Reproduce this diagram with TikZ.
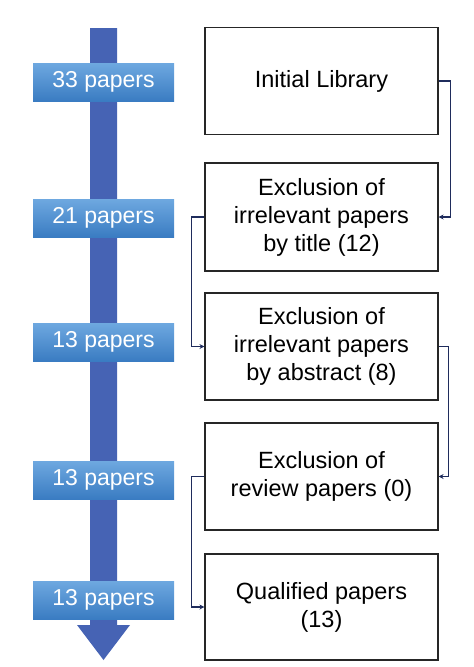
\documentclass[tikz,border=0pt]{standalone}
\usepackage{fontspec}
\setmainfont{Liberation Sans}
\usetikzlibrary{arrows.meta}
\definecolor{shaft}{RGB}{70,99,180}
\definecolor{lbltop}{RGB}{110,168,224}
\definecolor{lblbot}{RGB}{58,124,194}
\definecolor{conncol}{RGB}{31,44,92}
\tikzset{
  lbl/.style={minimum width=141pt, minimum height=38pt, inner sep=0pt,
    top color=lbltop, bottom color=lblbot, draw=none, text=white,
    font=\fontsize{23}{27}\selectfont},
  stepbox/.style={draw=black!85, line width=1.1pt, fill=white, minimum width=233pt,
    minimum height=107pt, inner sep=0pt, align=center,
    font=\fontsize{23.5}{28}\selectfont},
  conn/.style={draw=conncol, line width=1.4pt, -{Stealth[length=5pt,width=5pt]}}
}
\begin{document}
\begin{tikzpicture}[x=1pt,y=-1pt]
\useasboundingbox (0,0) rectangle (474,667);
% big arrow
\fill[shaft] (90,28) -- (117,28) -- (117,625) -- (130,625) -- (103.5,660) -- (77,625) -- (90,625) -- cycle;
% labels
\node[lbl] (l1) at (103.5,82) {33 papers};
\node[lbl] (l2) at (103.5,218) {21 papers};
\node[lbl] (l3) at (103.5,342) {13 papers};
\node[lbl] (l4) at (103.5,480) {13 papers};
\node[lbl] (l5) at (103.5,600) {13 papers};
% boxes
\node[stepbox] (b1) at (321.5,81) {Initial Library};
\node[stepbox, minimum height=108pt] (b2) at (321.5,217) {Exclusion of\\irrelevant papers\\by title (12)};
\node[stepbox] (b3) at (321.5,346.5) {Exclusion of\\irrelevant papers\\by abstract (8)};
\node[stepbox] (b4) at (321.5,476.5) {Exclusion of\\review papers (0)};
\node[stepbox, minimum height=106pt] (b5) at (321.5,607) {Qualified papers\\(13)};
% connectors
\draw[conn] (b1.east) -- ++(12,0) |- (b2.east);
\draw[conn] (b2.west) -- ++(-13,0) |- (b3.west);
\draw[conn] (b3.east) -- ++(10,0) |- (b4.east);
\draw[conn] (b4.west) -- ++(-13,0) |- (b5.west);
\end{tikzpicture}
\end{document}
